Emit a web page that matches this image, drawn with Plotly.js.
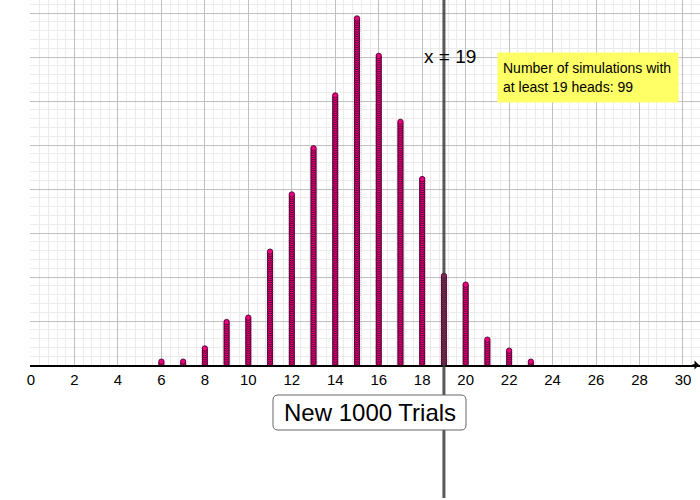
<!DOCTYPE html>
<html>
<head>
<meta charset="utf-8">
<script src="https://cdn.plot.ly/plotly-3.0.1.min.js"></script>
<style>html,body{margin:0;padding:0;background:#fff}#chart{width:700px;height:500px}</style>
</head>
<body>
<div id="chart"></div>
<script>
// Number of heads per simulation (x) and how many of the 1000 simulations gave it
const headsValues = [6, 7, 8, 9, 10, 11, 12, 13, 14, 15, 16, 17, 18, 19, 20, 21, 22, 23];
const simCounts   = [2, 2, 8, 20, 22, 52, 78, 99, 123, 158, 141, 111, 85, 41, 37, 12, 7, 2];
const xTickVals = [0, 2, 4, 6, 8, 10, 12, 14, 16, 18, 20, 22, 24, 26, 28, 30];
const threshold = 19;
const buttonLabel = 'New 1000 Trials';
const atLeast = simCounts.reduce((s, c, i) => s + (headsValues[i] >= threshold ? c : 0), 0);

// one dot per simulation, stacked
const dotX = [], dotY = [];
headsValues.forEach((h, i) => {
  for (let k = 1; k <= simCounts[i]; k++) { dotX.push(h); dotY.push(k - 0.5); }
});

const font = 'Liberation Sans, Arial, sans-serif';
const W = 700, H = 500, L = 30, B = 135;
const pw = W - L, ph = H - B;
const pxPerX = 21.733, pxPerY = 2.2;
const xr = [-1 / pxPerX, -1 / pxPerX + pw / pxPerX];
const yr = [0, ph / pxPerY];

// helpers for decoration placement in paper units
const px2paperX = p => (p - L) / pw;
const py2paperY = p => (ph - p) / ph;

function roundRect(x0, y0, x1, y1, r) {
  const X = px2paperX, Y = py2paperY;
  const rx = r / pw, ry = r / ph;
  const a = X(x0), b = X(x1), t = Y(y0), u = Y(y1);
  return `M${a + rx},${t} L${b - rx},${t} Q${b},${t} ${b},${t - ry} L${b},${u + ry} Q${b},${u} ${b - rx},${u} L${a + rx},${u} Q${a},${u} ${a},${u + ry} L${a},${t - ry} Q${a},${t} ${a + rx},${t} Z`;
}

const trace = {
  type: 'scatter', mode: 'markers', x: dotX, y: dotY,
  marker: { size: 5.5, color: '#e8007e', line: { color: '#3a0020', width: 0.8 } },
  hoverinfo: 'skip', cliponaxis: false
};

const layout = {
  width: W, height: H,
  margin: { l: L, r: 0, t: 0, b: B, pad: 0 },
  paper_bgcolor: '#fff', plot_bgcolor: '#fff',
  showlegend: false,
  font: { family: font, color: '#000' },
  xaxis: {
    range: xr, fixedrange: true,
    tickmode: 'array', tickvals: xTickVals, ticktext: xTickVals.map(String),
    ticks: '', ticklen: 0,
    tickfont: { size: 15, family: font, color: '#000' },
    showgrid: true, gridcolor: '#c0c0c0', gridwidth: 1,
    minor: { dtick: 0.4, tick0: 0, showgrid: true, gridcolor: '#ebebeb', gridwidth: 1, ticks: '' },
    zeroline: false, showline: true, linecolor: '#000', linewidth: 1.5
  },
  yaxis: {
    range: yr, fixedrange: true,
    tick0: 0, dtick: 20, showticklabels: false, ticks: '',
    showgrid: true, gridcolor: '#c0c0c0', gridwidth: 1,
    minor: { dtick: 4, showgrid: true, gridcolor: '#ebebeb', gridwidth: 1, ticks: '' },
    zeroline: false, showline: false
  },
  shapes: [
    { type: 'line', xref: 'x', yref: 'paper', x0: threshold, x1: threshold, y0: 1, y1: py2paperY(498),
      line: { color: 'rgba(60,60,60,0.85)', width: 3 }, layer: 'above' },
    { type: 'path', xref: 'paper', yref: 'paper', path: roundRect(273, 395, 466, 430, 5),
      fillcolor: '#fff', line: { color: '#666', width: 1 }, layer: 'above' }
  ],
  annotations: [
    { xref: 'x', yref: 'paper', x: 17.98, y: py2paperY(56), xanchor: 'left', yanchor: 'middle',
      text: 'x = ' + threshold, showarrow: false, font: { size: 19, family: font, color: '#000' } },
    { xref: 'paper', yref: 'paper', x: px2paperX(497), y: py2paperY(52), xanchor: 'left', yanchor: 'top',
      text: 'Number of simulations with<br>at least ' + threshold + ' heads: ' + atLeast,
      align: 'left', showarrow: false, bgcolor: '#ffff66', borderpad: 5, width: 170, height: 39,
      font: { size: 14, family: font, color: '#000' } },
    { xref: 'paper', yref: 'paper', x: px2paperX(369.5), y: py2paperY(412.5), xanchor: 'center', yanchor: 'middle',
      text: buttonLabel, showarrow: false, font: { size: 24, family: font, color: '#000' } },
    { xref: 'paper', yref: 'paper', x: 1, y: 0, ax: -9, ay: 0, axref: 'pixel', ayref: 'pixel',
      text: '', showarrow: true, arrowhead: 1, arrowsize: 1, arrowwidth: 1.5, arrowcolor: '#000' }
  ]
};

Plotly.newPlot('chart', [trace], layout, { staticPlot: true, displayModeBar: false });
</script>
</body>
</html>
